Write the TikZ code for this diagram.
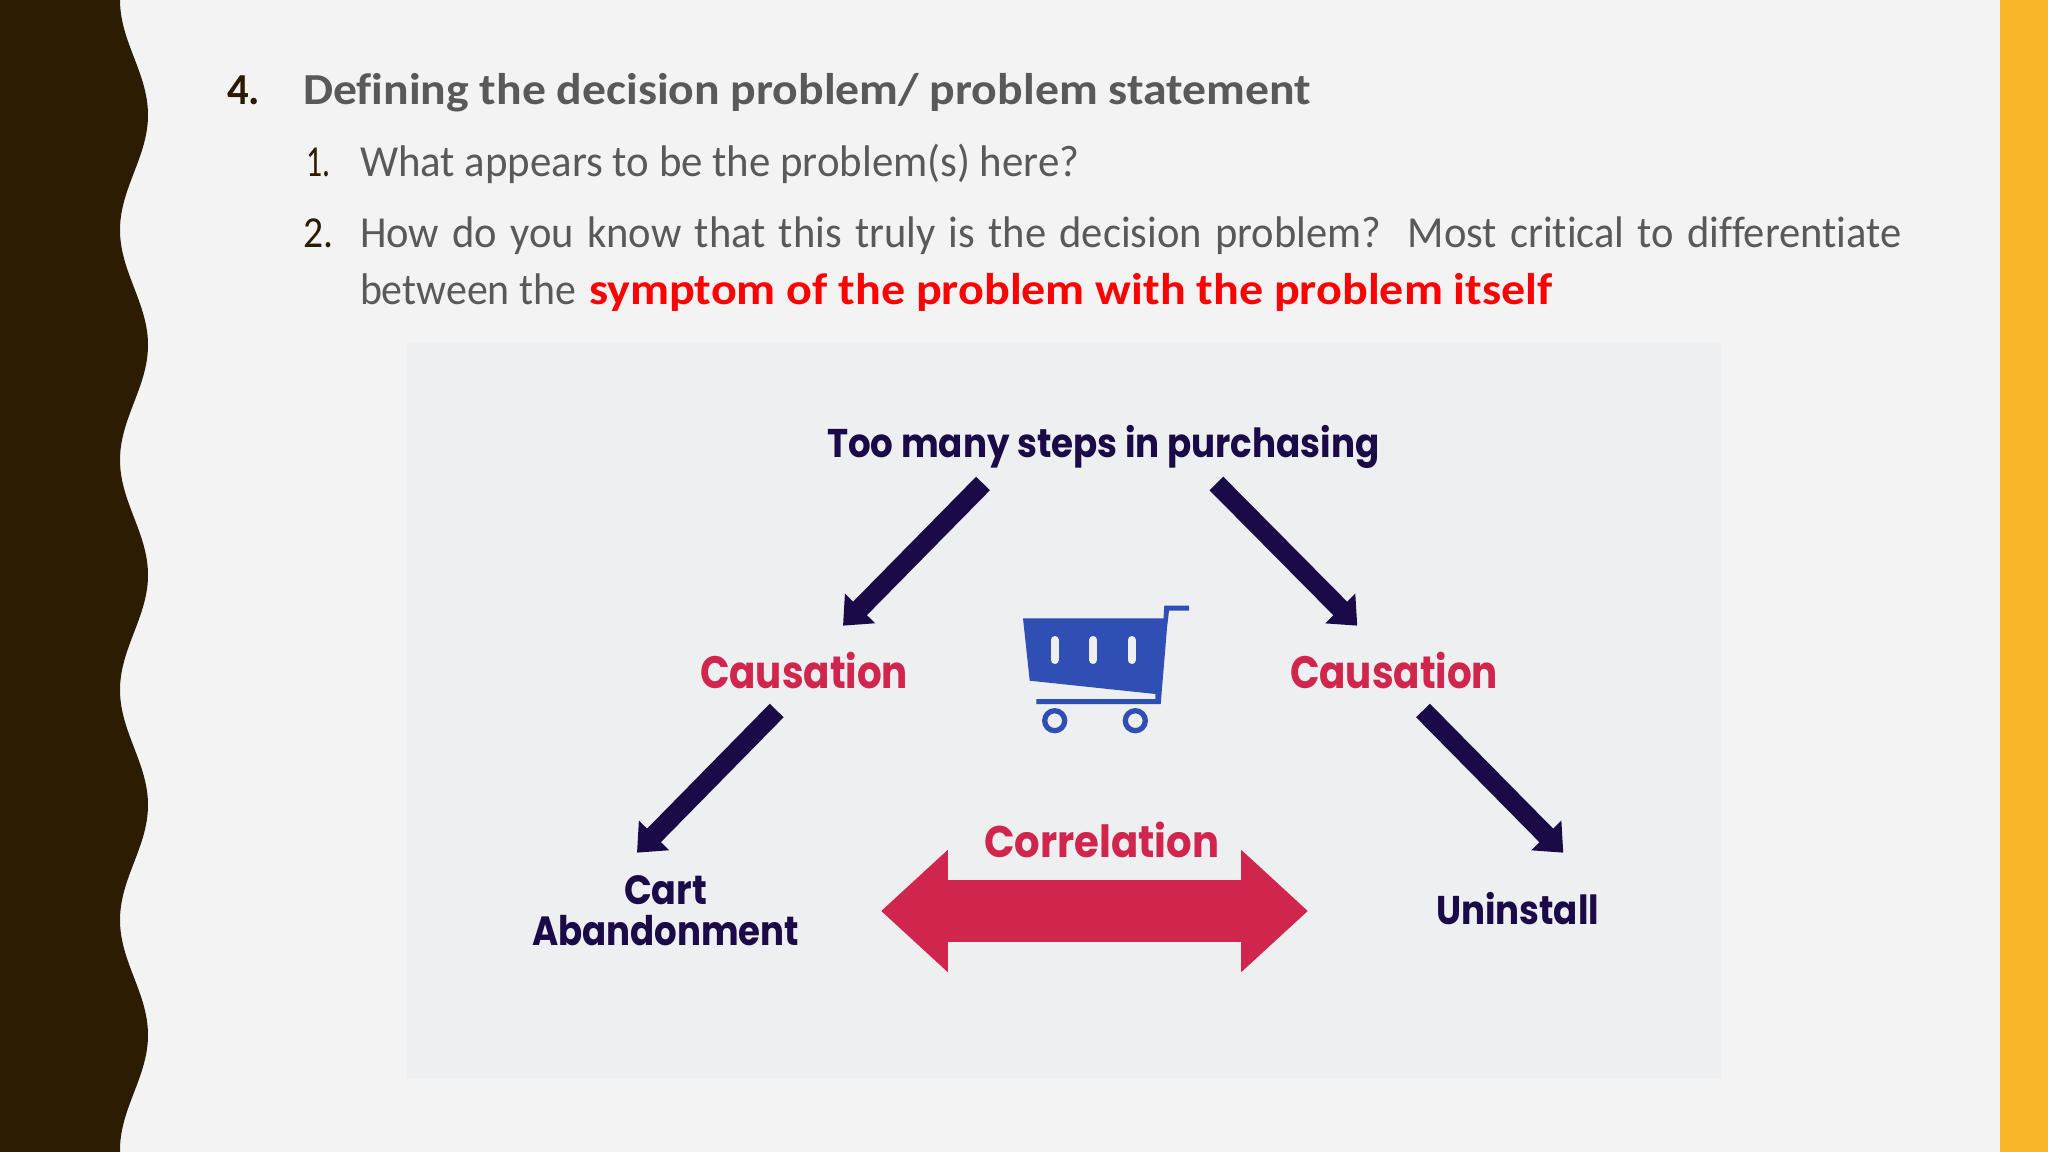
\documentclass[tikz,border=0pt]{standalone}
\usepackage{fontspec}
\usepackage{graphicx}
\usetikzlibrary{arrows.meta}
\setmainfont{Carlito}[Ligatures={NoCommon}]
\newfontfamily\dgfont{Poppins}
\definecolor{bgc}{HTML}{F3F3F3}
\definecolor{side}{HTML}{2C1C02}
\definecolor{amber}{HTML}{F9B428}
\definecolor{panelc}{HTML}{EDEFF1}
\definecolor{bodyt}{HTML}{595959}
\definecolor{numc}{HTML}{2B1B00}
\definecolor{redt}{HTML}{FF0000}
\definecolor{navy}{HTML}{1B0A48}
\definecolor{crim}{HTML}{D0254C}
\definecolor{cartc}{HTML}{2F4FB5}
\newsavebox\fitbox
\newcommand\fitpx[2]{\sbox\fitbox{#2}\pgfmathsetmacro\fitr{#1*0.28453/\the\wd\fitbox}\scalebox{\fitr}[1]{\usebox\fitbox}}
\tikzset{
 slide/.style={anchor=base west,inner sep=0pt,outer sep=0pt,font=\fontsize{12.6}{15}\selectfont},
 slidenum/.style={slide,text=numc},
 slidetxt/.style={slide,text=bodyt},
 dglabel/.style={anchor=base west,inner sep=0pt,outer sep=0pt},
 navylabel/.style={dglabel,text=navy},
 crimlabel/.style={dglabel,text=crim},
 navyarrow/.style={draw=navy,line width=5.5pt,-{Triangle[length=6.9pt,width=11.6pt]}},
 crimarrow/.style={draw=crim,line width=17.5pt,{Triangle[length=19pt,width=33.6pt]}-{Triangle[length=19pt,width=33.6pt]}},
 slot/.style={draw=panelc,line width=2.3pt,line cap=round},
 wheel/.style={draw=cartc,line width=1.5pt,fill=panelc},
}
\begin{document}
\begin{tikzpicture}[x=0.01cm,y=-0.01cm]
\useasboundingbox (0,0) rectangle (2048,1152);
\fill[bgc] (0,0) rectangle (2048,1152);
\fill[side] (0,0) -- plot[domain=0:1152,samples=200,smooth] ({134+14*cos((\x-115)/230*360)},\x) -- (0,1152) -- cycle;
\fill[amber] (2000,0) rectangle (2048,1152);
\fill[panelc] (407,343) rectangle (1721,1079);
% slide text
\node[slidenum,font=\fontsize{12.6}{15}\selectfont\bfseries] (n4) at (227,105) {\fitpx{33}{4.}};
\node[slidetxt,font=\fontsize{12.6}{15}\selectfont\bfseries] (title) at (303,105) {\fitpx{1007}{Defining the decision problem/ problem statement}};
\node[slidenum] (n1) at (306,177) {\fitpx{24}{1.}};
\node[slidetxt] (l1) at (360,177) {\fitpx{719}{What appears to be the problem(s) here?}};
\node[slidenum] (n2) at (303,248) {\fitpx{30}{2.}};
\node[slidetxt] (l2) at (360,248) {\scalebox{.96}[1]{\makebox[456.7pt][s]{How do you know that this truly is the decision problem?\ \ Most critical to differentiate}}};
\node[slidetxt] (l3a) at (360,305) {\fitpx{216}{between the}};
\node[slide,text=redt,font=\fontsize{12.6}{15}\selectfont\bfseries] (l3b) at (589,305) {\fitpx{963}{symptom of the problem with the problem itself}};
% diagram labels
\node[navylabel,font=\dgfont\bfseries\fontsize{11.4}{13}\selectfont] (top) at (827,458) {\fitpx{552}{Too many steps in purchasing}};
\node[crimlabel,font=\dgfont\bfseries\fontsize{12.9}{15}\selectfont] (cl) at (700,689) {\fitpx{208}{Causation}};
\node[crimlabel,font=\dgfont\bfseries\fontsize{12.9}{15}\selectfont] (cr) at (1290,689) {\fitpx{208}{Causation}};
\node[crimlabel,font=\dgfont\bfseries\fontsize{12.6}{15}\selectfont] (corr) at (984,857) {\fitpx{235}{Correlation}};
\node[navylabel,font=\dgfont\bfseries\fontsize{11.6}{13}\selectfont] (cart) at (624,904) {\fitpx{83}{Cart}};
\node[navylabel,font=\dgfont\bfseries\fontsize{11.6}{13}\selectfont] (aband) at (532,945) {\fitpx{267}{Abandonment}};
\node[navylabel,font=\dgfont\bfseries\fontsize{11.4}{13}\selectfont] (unin) at (1436,924) {\fitpx{163}{Uninstall}};
% arrow ends
\coordinate (a1s) at (983,483.5);
\coordinate (a1e) at (843,625.7);
\coordinate (a2s) at (1216.4,483.5);
\coordinate (a2e) at (1357.3,625.7);
\coordinate (a3s) at (776.7,710.5);
\coordinate (a3e) at (637,852.7);
\coordinate (a4s) at (1423,710.5);
\coordinate (a4e) at (1563.3,852.7);
\coordinate (dl) at (881,911);
\coordinate (dr) at (1308,911);
\draw[navyarrow] (a1s) -- (a1e);
\draw[navyarrow] (a2s) -- (a2e);
\draw[navyarrow] (a3s) -- (a3e);
\draw[navyarrow] (a4s) -- (a4e);
\draw[crimarrow] (dl) -- (dr);
% cart
\fill[cartc] (1023,618.3) -- (1163.5,618.3) -- (1164.3,605.7) -- (1189,605.7) -- (1189,610.7) -- (1169,610.7) -- (1167,628) -- (1160.7,704) -- (1036.3,704) -- (1036.3,699) -- (1155.3,699) -- (1155.3,694) -- (1029.7,680.7) -- cycle;
\draw[slot] (1054.7,640) -- (1054.7,660);
\draw[slot] (1093.3,640) -- (1093.3,660);
\draw[slot] (1131.7,640) -- (1131.7,660);
\draw[wheel] (1054.7,720.7) circle[radius=10];
\draw[wheel] (1135.3,720.7) circle[radius=10];
\end{tikzpicture}
\end{document}
